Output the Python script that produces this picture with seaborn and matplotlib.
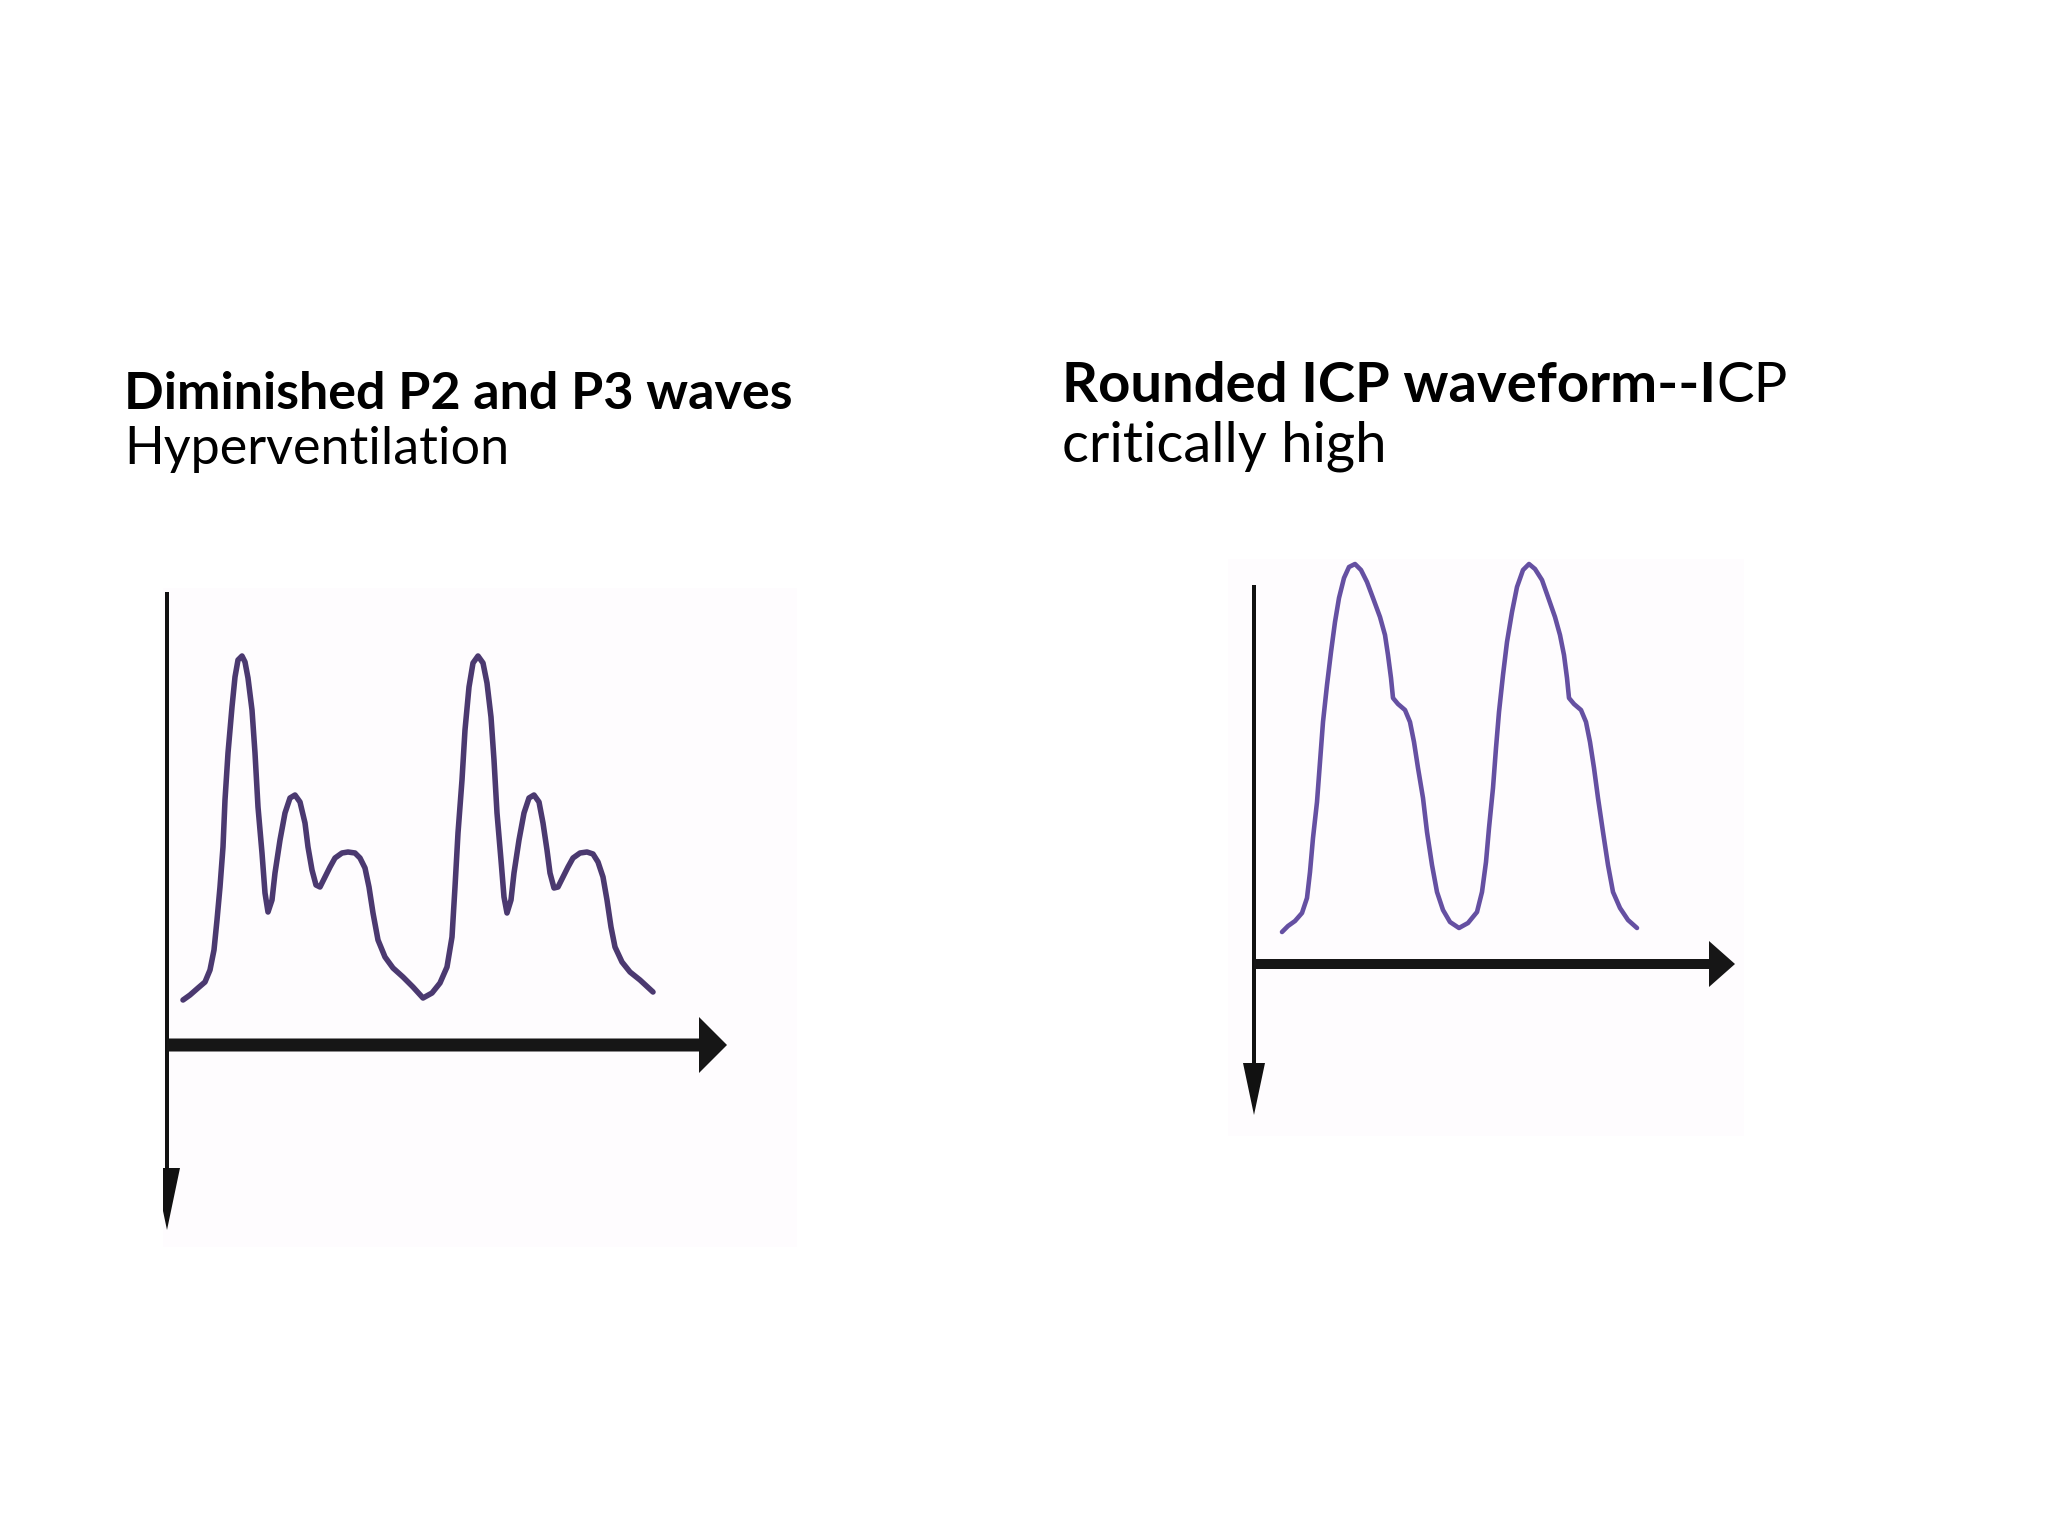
import matplotlib
matplotlib.use('Agg')
import matplotlib.pyplot as plt
import seaborn as sns
import pandas as pd

# waveform samples (time units, pressure units above the baseline)
p2p3_time = [16, 23, 31, 38, 43, 47, 50, 53, 56, 58, 61, 65, 68, 71, 75, 78, 81, 85, 88, 91,
             95, 98, 101, 105, 108, 113, 118, 123, 128, 133, 138, 141, 145, 149, 153, 158, 163,
             168, 175, 181, 188, 193, 198, 202, 206, 211, 218, 226, 236, 246, 256, 265, 273,
             280, 285, 288, 291, 295, 298, 302, 306, 311, 316, 320, 324, 327, 330, 334, 337,
             340, 344, 347, 352, 357, 362, 367, 372, 376, 380, 383, 387, 391, 396, 401, 406,
             413, 420, 426, 431, 436, 440, 444, 448, 455, 463, 473, 486]
p2p3_pressure = [45, 50, 57, 63, 75, 95, 125, 158, 198, 245, 292, 338, 368, 385, 389, 383, 367, 335,
                 292, 238, 192, 152, 133, 145, 172, 205, 232, 247, 250, 243, 222, 198, 175, 160,
                 158, 168, 178, 187, 192, 193, 192, 187, 177, 158, 132, 105, 88, 77, 68, 58, 47,
                 52, 62, 78, 108, 158, 212, 265, 315, 358, 382, 389, 382, 362, 328, 285, 232, 185,
                 148, 132, 145, 172, 205, 232, 247, 250, 243, 222, 195, 172, 157, 158, 168, 178,
                 187, 192, 193, 191, 183, 168, 145, 118, 98, 83, 73, 65, 53]

rounded_time = [28, 34, 41, 48, 53, 56, 59, 63, 66, 69, 73, 77, 81, 85, 90, 95, 101, 107, 113, 119,
                126, 131, 134, 137, 139, 144, 151, 156, 160, 164, 169, 173, 178, 183, 189, 196,
                205, 214, 223, 228, 232, 235, 239, 242, 245, 249, 253, 258, 263, 269, 275, 281,
                288, 294, 301, 306, 310, 313, 315, 320, 327, 332, 336, 340, 344, 349, 354, 359,
                366, 374, 383]
rounded_pressure = [32, 38, 43, 51, 66, 92, 126, 162, 202, 242, 279, 312, 342, 366, 386, 397, 400,
                    394, 382, 366, 347, 329, 309, 286, 266, 260, 254, 242, 222, 196, 166, 132, 99,
                    72, 54, 42, 36, 41, 52, 72, 102, 136, 176, 216, 252, 289, 322, 352, 377, 394,
                    400, 395, 384, 367, 347, 329, 309, 286, 266, 260, 254, 242, 222, 196, 166,
                    132, 99, 72, 56, 44, 36]

left_title = 'Diminished P2 and P3 waves'
left_subtitle = 'Hyperventilation'
right_title_bold = 'Rounded ICP waveform--I'
right_title_rest = 'CP'
right_subtitle = 'critically high'

W, H = 2048, 1536


def px_box(x0, y0, x1, y1):
    return [x0 / W, 1 - y1 / H, (x1 - x0) / W, (y1 - y0) / H]


def draw_axes_arrows(ax, x_end, y_top, y_end, h_width, h_head_w, h_head_l, v_head_w, v_head_l):
    # plain arrowed axes, as in the sketch: the y axis runs down past the origin
    ax.arrow(0, y_top, 0, y_end - y_top, width=4, head_width=v_head_w, head_length=v_head_l,
             length_includes_head=True, color='#111111', lw=0, zorder=3)
    ax.arrow(0, 0, x_end, 0, width=h_width, head_width=h_head_w, head_length=h_head_l,
             length_includes_head=True, color='#161616', lw=0, zorder=3)


def clean(ax):
    ax.set_facecolor('#fefcfe')
    ax.set_xticks([])
    ax.set_yticks([])
    ax.set_xlabel('')
    ax.set_ylabel('')
    for s in ax.spines.values():
        s.set_visible(False)


def main():
    sns.set_theme(style='white')
    plt.rcParams['font.family'] = ['Lato', 'DejaVu Sans']

    fig = plt.figure(figsize=(W / 100, H / 100), dpi=100)
    fig.patch.set_facecolor('white')

    left = pd.DataFrame({'time': p2p3_time, 'pressure': p2p3_pressure})
    right = pd.DataFrame({'time': rounded_time, 'pressure': rounded_pressure})

    # left panel: diminished P2 / P3
    ax1 = fig.add_axes(px_box(163, 588, 797, 1247))
    sns.lineplot(data=left, x='time', y='pressure', ax=ax1, color='#4b3970', lw=4.0,
                 estimator=None, sort=False, zorder=4)
    ax1.set_xlim(-4, 630)
    ax1.set_ylim(-202, 457)
    draw_axes_arrows(ax1, 560, 453, -185, 13, 56, 28, 26, 62)
    clean(ax1)

    # right panel: rounded waveform
    ax2 = fig.add_axes(px_box(1228, 559, 1744, 1136))
    sns.lineplot(data=right, x='time', y='pressure', ax=ax2, color='#6550a2', lw=3.3,
                 estimator=None, sort=False, zorder=4)
    ax2.set_xlim(-26, 490)
    ax2.set_ylim(-172, 405)
    draw_axes_arrows(ax2, 481, 379, -151, 10, 46, 26, 22, 52)
    clean(ax2)

    fig.text(124 / W, 1 - 409 / H, left_title, fontsize=37.5, fontweight='bold',
             va='baseline', color='black')
    fig.text(124 / W, 1 - 464 / H, left_subtitle, fontsize=37.5, va='baseline', color='black')

    t = fig.text(1062 / W, 1 - 402 / H, right_title_bold, fontsize=40.5, fontweight='bold',
                 va='baseline', color='black')
    fig.canvas.draw()
    bb = t.get_window_extent()
    fig.text(bb.x1 / W, 1 - 402 / H, right_title_rest, fontsize=40.5, va='baseline', color='black')
    fig.text(1062 / W, 1 - 461 / H, right_subtitle, fontsize=40.5, va='baseline', color='black')

    fig.savefig('out.png', dpi=100, facecolor='white')
    plt.close(fig)


if __name__ == '__main__':
    main()
